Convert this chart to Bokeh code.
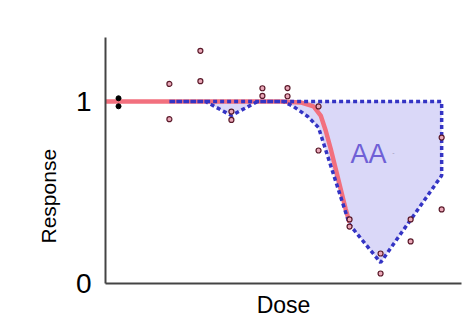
from bokeh.plotting import figure
from bokeh.models import Label, FixedTicker, Title
from bokeh.embed import file_html
from bokeh.resources import INLINE

# --- data (dose positions in arbitrary log-dose units) ---
control_dose = [0.42, 0.42]
control_resp = [1.018, 0.974]

doses = [2.06, 2.06, 3.06, 3.06, 4.06, 4.06, 5.06, 5.06, 5.87, 5.87,
         6.87, 6.87, 7.87, 7.87, 8.87, 8.87, 9.84, 9.84, 10.84, 10.84]
responses = [1.097, 0.903, 1.279, 1.112, 0.945, 0.899, 1.073, 1.031, 1.074, 1.029,
             0.973, 0.731, 0.352, 0.313, 0.165, 0.055, 0.352, 0.231, 0.802, 0.407]

fit_x = [0.0, 5.65, 6.29, 6.71, 6.94, 7.10, 7.26, 7.42, 7.58, 7.74, 7.87]
fit_y = [1.0, 1.0, 0.995, 0.973, 0.923, 0.841, 0.742, 0.632, 0.522, 0.412, 0.335]

area_x = [2.06, 3.23, 4.06, 4.90, 5.74, 6.06, 6.52, 6.87, 7.87, 8.87, 10.84, 10.84, 2.06]
area_y = [1.0, 1.0, 0.923, 1.0, 1.0, 0.973, 0.918, 0.857, 0.324, 0.115, 0.593, 1.0, 1.0]

y_ticks = [0, 1]
area_label = "AA"

p = figure(width=474, height=331, x_range=(0, 11.48), y_range=(0, 1.352),
           output_backend="svg", toolbar_location=None,
           min_border_left=105, min_border_right=13, min_border_top=37, min_border_bottom=48)
p.outline_line_color = None
p.xgrid.grid_line_color = None
p.ygrid.grid_line_color = None
p.background_fill_color = "white"

FONT = "Liberation Sans"

p.yaxis.ticker = FixedTicker(ticks=y_ticks)
p.yaxis.major_tick_line_color = None
p.yaxis.minor_tick_line_color = None
p.yaxis.axis_line_width = 2
p.yaxis.axis_line_color = "#444444"
p.yaxis.major_label_text_font = FONT
p.yaxis.major_label_text_font_size = "28px"
p.yaxis.major_label_text_color = "black"
p.yaxis.major_label_standoff = 8

p.xaxis.ticker = FixedTicker(ticks=[])
p.xaxis.major_tick_line_color = None
p.xaxis.minor_tick_line_color = None
p.xaxis.axis_line_width = 2
p.xaxis.axis_line_color = "#444444"
p.xaxis.axis_label = "Dose"
p.xaxis.axis_label_text_font = FONT
p.xaxis.axis_label_text_font_size = "23px"
p.xaxis.axis_label_text_font_style = "normal"
p.xaxis.axis_label_text_color = "black"
p.xaxis.axis_label_standoff = 8

# area polygon: fill first
p.patch(area_x, area_y, fill_color="#dad8f8", fill_alpha=1.0, line_color=None)

# fitted curve
p.line(fit_x, fit_y, line_color="#f2707e", line_width=4.5)

# area outline on top of the curve
p.line(area_x, area_y, line_color="#3434c4", line_width=3.5, line_dash="4 3")

# data points
p.scatter(doses, responses, size=5, fill_color="#eaa8b8", line_color="#5a1a2a", line_width=1.2)
p.scatter(control_dose, control_resp, size=5, fill_color="black", line_color="black")

p.add_layout(Label(x=7.9, y=0.714, text=area_label, text_font=FONT, text_font_size="27px",
                   text_color="#6f60d6", text_align="left", text_baseline="alphabetic"))
p.add_layout(Label(x=9.25, y=0.72, text="-", text_font=FONT, text_font_size="7px",
                   text_color="#9a9ab8", text_align="left", text_baseline="alphabetic"))

ylab = Title(text="Response", align="left", offset=40, standoff=25,
             text_font=FONT, text_font_size="21px", text_font_style="normal",
             text_color="black")
p.add_layout(ylab, "left")

open("out.html", "w").write(file_html(p, INLINE))
